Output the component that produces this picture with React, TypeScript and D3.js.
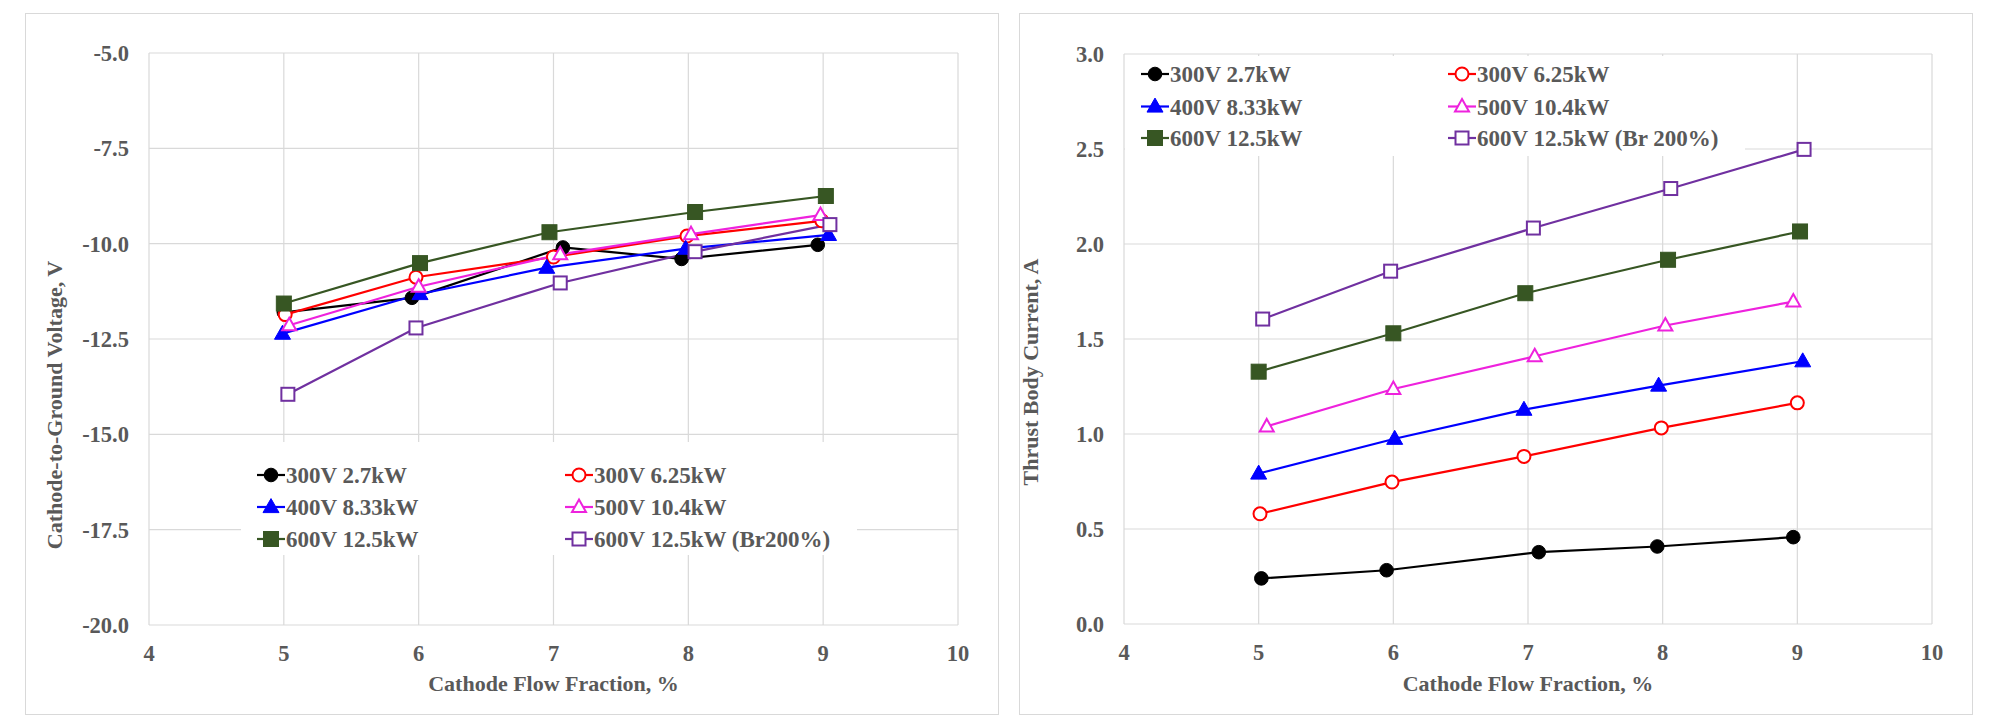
import React from "react";
import * as d3 from "d3";

// ---------- DATA ----------
const seriesNames = ["300V 2.7kW", "300V 6.25kW", "400V 8.33kW", "500V 10.4kW", "600V 12.5kW"];
const leftExtraName = "600V 12.5kW (Br200%)";
const rightExtraName = "600V 12.5kW (Br 200%)";

const xTicks = [4, 5, 6, 7, 8, 9, 10];
const leftYTicks = [-20, -17.5, -15, -12.5, -10, -7.5, -5];
const rightYTicks = [0, 0.5, 1, 1.5, 2, 2.5, 3];

// Left chart: Cathode-to-Ground Voltage, V
const leftX_300_27 = [5.0, 5.95, 7.07, 7.95, 8.96];
const leftY_300_27 = [-11.8, -11.42, -10.1, -10.4, -10.03];
const leftX_300_625 = [5.01, 5.98, 7.0, 7.99, 8.99];
const leftY_300_625 = [-11.86, -10.88, -10.35, -9.8, -9.4];
const leftX_400 = [4.99, 6.01, 6.95, 7.98, 9.04];
const leftY_400 = [-12.36, -11.32, -10.63, -10.13, -9.77];
const leftX_500 = [5.04, 6.0, 7.05, 8.02, 8.98];
const leftY_500 = [-12.14, -11.13, -10.28, -9.75, -9.25];
const leftX_600 = [5.0, 6.01, 6.97, 8.05, 9.02];
const leftY_600 = [-11.57, -10.51, -9.7, -9.17, -8.75];
const leftX_600br = [5.03, 5.98, 7.05, 8.05, 9.05];
const leftY_600br = [-13.95, -12.21, -11.03, -10.21, -9.5];

// Right chart: Thrust Body Current, A
const rightX_300_27 = [5.02, 5.95, 7.08, 7.96, 8.97];
const rightY_300_27 = [0.24, 0.283, 0.378, 0.408, 0.457];
const rightX_300_625 = [5.01, 5.99, 6.97, 7.99, 9.0];
const rightY_300_625 = [0.58, 0.747, 0.882, 1.032, 1.164];
const rightX_400 = [5.0, 6.01, 6.97, 7.97, 9.04];
const rightY_400 = [0.792, 0.975, 1.128, 1.255, 1.383];
const rightX_500 = [5.06, 6.0, 7.05, 8.02, 8.97];
const rightY_500 = [1.04, 1.237, 1.409, 1.571, 1.697];
const rightX_600 = [5.0, 6.0, 6.98, 8.04, 9.02];
const rightY_600 = [1.328, 1.53, 1.741, 1.917, 2.066];
const rightX_600br = [5.03, 5.98, 7.04, 8.06, 9.05];
const rightY_600br = [1.605, 1.857, 2.084, 2.292, 2.498];

// ---------- STYLES ----------
const seriesStyles = [
  { color: "#000000", shape: "circle", filled: true },
  { color: "#FF0000", shape: "circle", filled: false },
  { color: "#0000FF", shape: "triangle", filled: true },
  { color: "#EE22DD", shape: "triangle", filled: false },
  { color: "#375623", shape: "square", filled: true },
  { color: "#7030A0", shape: "square", filled: false },
];

const FONT = "'Liberation Serif', 'Times New Roman', serif";
const TEXT = "#595959";
const GRID = "#d9d9d9";

type Series = { name: string; xs: number[]; ys: number[] };

function Marker({ cx, cy, style }: { cx: number; cy: number; style: any }) {
  const fill = style.filled ? style.color : "#ffffff";
  const sw = style.filled ? 1 : 2;
  if (style.shape === "circle") {
    return <circle cx={cx} cy={cy} r={style.filled ? 6.8 : 6.5} fill={fill} stroke={style.color} strokeWidth={sw} />;
  }
  if (style.shape === "square") {
    const s = style.filled ? 15 : 13;
    return <rect x={cx - s / 2} y={cy - s / 2} width={s} height={s} fill={fill} stroke={style.color} strokeWidth={sw} />;
  }
  const hw = style.filled ? 8 : 7;
  const h = style.filled ? 14 : 12.5;
  const d = `M${cx},${cy - h * 0.6}L${cx + hw},${cy + h * 0.4}L${cx - hw},${cy + h * 0.4}Z`;
  return <path d={d} fill={fill} stroke={style.color} strokeWidth={sw} strokeLinejoin="miter" />;
}

function Chart({
  series,
  yTicks,
  yDomain,
  plot,
  border,
  yTitle,
  yTitleX,
  yTitleY,
  legendBg,
  legendCols,
  legendRows,
  legendMarkerOffset,
}: any) {
  const x = d3.scaleLinear().domain([4, 10]).range([plot.x0, plot.x1]);
  const y = d3.scaleLinear().domain(yDomain).range([plot.y1, plot.y0]);
  const line = d3
    .line<[number, number]>()
    .x((d) => x(d[0]))
    .y((d) => y(d[1]));

  return (
    <g>
      <rect x={border.x} y={border.y} width={border.w} height={border.h} fill="#ffffff" stroke={GRID} strokeWidth={1} />
      {yTicks.map((t: number) => (
        <line key={"h" + t} x1={plot.x0} x2={plot.x1} y1={y(t)} y2={y(t)} stroke={GRID} strokeWidth={1.2} />
      ))}
      {xTicks.map((t: number) => (
        <line key={"v" + t} x1={x(t)} x2={x(t)} y1={plot.y0} y2={plot.y1} stroke={GRID} strokeWidth={1.2} />
      ))}
      <rect x={legendBg.x} y={legendBg.y} width={legendBg.w} height={legendBg.h} fill="#ffffff" />
      {yTicks.map((t: number) => (
        <text
          key={"yt" + t}
          x={plot.x0 - 20}
          y={y(t)}
          dy="0.35em"
          textAnchor="end"
          fontFamily={FONT}
          fontWeight="bold"
          fontSize={22.5}
          fill={TEXT}
        >
          {t.toFixed(1)}
        </text>
      ))}
      {xTicks.map((t: number) => (
        <text
          key={"xt" + t}
          x={x(t)}
          y={plot.y1 + 36}
          textAnchor="middle"
          fontFamily={FONT}
          fontWeight="bold"
          fontSize={22.5}
          fill={TEXT}
        >
          {t}
        </text>
      ))}
      <text
        x={(plot.x0 + plot.x1) / 2}
        y={691}
        textAnchor="middle"
        fontFamily={FONT}
        fontWeight="bold"
        fontSize={22}
        fill={TEXT}
      >
        Cathode Flow Fraction, %
      </text>
      <text
        transform={`translate(${yTitleX},${yTitleY}) rotate(-90)`}
        textAnchor="middle"
        dy="0.35em"
        fontFamily={FONT}
        fontWeight="bold"
        fontSize={22}
        fill={TEXT}
      >
        {yTitle}
      </text>
      {series.map((s: Series, i: number) => {
        const pts: [number, number][] = s.xs.map((xv, j) => [xv, s.ys[j]]);
        return (
          <path key={"l" + i} d={line(pts) || ""} fill="none" stroke={seriesStyles[i].color} strokeWidth={2.2} />
        );
      })}
      {series.map((s: Series, i: number) =>
        s.xs.map((xv, j) => <Marker key={"m" + i + "_" + j} cx={x(xv)} cy={y(s.ys[j])} style={seriesStyles[i]} />)
      )}
      {series.map((s: Series, i: number) => {
        const col = i % 2;
        const row = Math.floor(i / 2);
        const lx = legendCols[col];
        const ly = legendRows[row];
        return (
          <g key={"lg" + i}>
            <line x1={lx} x2={lx + 28} y1={ly} y2={ly} stroke={seriesStyles[i].color} strokeWidth={2.2} />
            <Marker cx={lx + legendMarkerOffset} cy={ly} style={seriesStyles[i]} />
            <text
              x={lx + 29}
              y={ly}
              dy="0.35em"
              fontFamily={FONT}
              fontWeight="bold"
              fontSize={23}
              fill={TEXT}
            >
              {s.name}
            </text>
          </g>
        );
      })}
    </g>
  );
}

export default function App() {
  const leftSeries: Series[] = [
    { name: seriesNames[0], xs: leftX_300_27, ys: leftY_300_27 },
    { name: seriesNames[1], xs: leftX_300_625, ys: leftY_300_625 },
    { name: seriesNames[2], xs: leftX_400, ys: leftY_400 },
    { name: seriesNames[3], xs: leftX_500, ys: leftY_500 },
    { name: seriesNames[4], xs: leftX_600, ys: leftY_600 },
    { name: leftExtraName, xs: leftX_600br, ys: leftY_600br },
  ];
  const rightSeries: Series[] = [
    { name: seriesNames[0], xs: rightX_300_27, ys: rightY_300_27 },
    { name: seriesNames[1], xs: rightX_300_625, ys: rightY_300_625 },
    { name: seriesNames[2], xs: rightX_400, ys: rightY_400 },
    { name: seriesNames[3], xs: rightX_500, ys: rightY_500 },
    { name: seriesNames[4], xs: rightX_600, ys: rightY_600 },
    { name: rightExtraName, xs: rightX_600br, ys: rightY_600br },
  ];

  return (
    <svg
      width={1993}
      height={719}
      style={{ position: "absolute", left: 0, top: 0, background: "#ffffff" }}
    >
      <rect x={0} y={0} width={1993} height={719} fill="#ffffff" />
      <Chart
        series={leftSeries}
        yTicks={leftYTicks}
        yDomain={[-20, -5]}
        plot={{ x0: 149, x1: 958, y0: 53, y1: 625 }}
        border={{ x: 25.5, y: 13.5, w: 973, h: 701 }}
        yTitle="Cathode-to-Ground Voltage, V"
        yTitleX={54}
        yTitleY={405}
        legendBg={{ x: 241, y: 442, w: 616, h: 113 }}
        legendCols={[257, 565]}
        legendRows={[475, 507, 539]}
        legendMarkerOffset={14}
      />
      <Chart
        series={rightSeries}
        yTicks={rightYTicks}
        yDomain={[0, 3]}
        plot={{ x0: 1124, x1: 1932, y0: 54, y1: 624 }}
        border={{ x: 1019.5, y: 13.5, w: 953, h: 701 }}
        yTitle="Thrust Body Current, A"
        yTitleX={1030}
        yTitleY={372}
        legendBg={{ x: 1125, y: 56, w: 620, h: 100 }}
        legendCols={[1141, 1448]}
        legendRows={[74, 106.5, 138]}
        legendMarkerOffset={14}
      />
    </svg>
  );
}
